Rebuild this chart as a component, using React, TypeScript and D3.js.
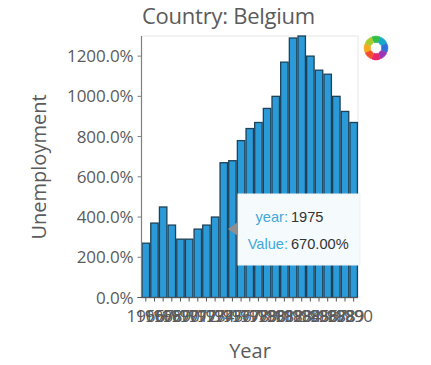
import React from "react";
import * as d3 from "d3";

const years = ["1966","1967","1968","1969","1970","1971","1972","1973","1974","1975","1976","1977","1978","1979","1980","1981","1982","1983","1984","1985","1986","1987","1988","1989","1990"];
const unemployment = [270,370,450,360,290,290,340,360,400,670,680,780,840,870,940,1000,1170,1290,1300,1200,1130,1110,1000,925,870];
const yTicks = [0,200,400,600,800,1000,1200];
const logoColors = ["#2fbf4a","#18a8c8","#2f6fd8","#9a35b5","#e8276f","#f2502c","#f7a81e","#a8cc2e"];
const W = 431, H = 365;
const m = { left: 141.5, right: 358, top: 36, bottom: 297.5 };
const FONT = "'Open Sans', 'Noto Sans', sans-serif";
const TIP = "'Liberation Sans', Arial, sans-serif";
const GREY = "#5b5b5b";

export default function App() {
  const x = d3.scaleBand<string>().domain(years).range([m.left, m.right]).paddingInner(0.14).paddingOuter(0.07);
  const y = d3.scaleLinear().domain([0, 1300]).range([m.bottom, m.top]);
  const fmt = (v: number) => d3.format(".1f")(v) + "%";
  const arc = d3.arc<{ a: number; b: number }>().innerRadius(5.5).outerRadius(12).startAngle(d => d.a).endAngle(d => d.b).cornerRadius(1);
  const sector = (2 * Math.PI) / logoColors.length;
  return (
    <svg width={W} height={H} viewBox={`0 0 ${W} ${H}`} style={{ position: "fixed", left: 0, top: 0, display: "block", background: "#fff" }}>
      <text x={142} y={24} fontFamily={FONT} fontSize={22} letterSpacing={-0.25} fill={GREY}>Country: Belgium</text>
      <path d={`M${m.left},${m.top}H${m.right}V${m.bottom}`} fill="none" stroke="#e6e6e6" strokeWidth={1} />
      {years.map((yr, i) => (
        <rect key={yr} x={x(yr)!} y={y(unemployment[i])} width={x.bandwidth()} height={m.bottom - y(unemployment[i])}
          fill="#2a9ad8" stroke="#1f4257" strokeWidth={1.3} />
      ))}
      <line x1={m.left} x2={m.left} y1={m.top} y2={m.bottom} stroke="#808080" strokeWidth={1.2} />
      {yTicks.map(t => (
        <g key={t}>
          <line x1={m.left - 4} x2={m.left} y1={y(t)} y2={y(t)} stroke="#808080" />
          <text x={m.left - 8} y={y(t) + 6} textAnchor="end" fontFamily={FONT} fontSize={17} letterSpacing={-0.1} fill={GREY}>{fmt(t)}</text>
        </g>
      ))}
      <line x1={m.left - 4} x2={m.right} y1={m.bottom} y2={m.bottom} stroke="#555" />
      {years.map((yr) => {
        const c = x(yr)! + x.bandwidth() / 2;
        return (
          <g key={yr}>
            <line x1={c} x2={c} y1={m.bottom} y2={m.bottom + 4} stroke="#555" />
            <text x={c} y={322} textAnchor="middle" fontFamily={FONT} fontSize={17} letterSpacing={-0.1} fill={GREY}>{yr}</text>
          </g>
        );
      })}
      <text transform="translate(46,167) rotate(-90)" textAnchor="middle" fontFamily={FONT} fontSize={20} fill={GREY}>Unemployment</text>
      <text x={250} y={358} textAnchor="middle" fontFamily={FONT} fontSize={20} fill={GREY}>Year</text>
      <g transform="translate(376,48)">
        {logoColors.map((c, i) => (
          <path key={c} d={arc({ a: i * sector - sector / 2, b: (i + 1) * sector - sector / 2 })!} fill={c} stroke={c} strokeWidth={0.5} />
        ))}
      </g>
      <rect x={238} y={194} width={122} height={71} fill="#f5fafd" stroke="#edf2f5" />
      <path d={`M228,229L238,222V236Z`} fill="#8f8f8f" />
      <text x={288} y={222} textAnchor="end" fontFamily={TIP} fontSize={14.6} fill="#3fa9d9">year:</text>
      <text x={291} y={222} fontFamily={TIP} fontSize={14.6} fill="#333">1975</text>
      <text x={288} y={249} textAnchor="end" fontFamily={TIP} fontSize={14.6} fill="#3fa9d9">Value:</text>
      <text x={291} y={249} fontFamily={TIP} fontSize={14.6} fill="#333">{d3.format(".2f")(unemployment[years.indexOf("1975")])}%</text>
    </svg>
  );
}
